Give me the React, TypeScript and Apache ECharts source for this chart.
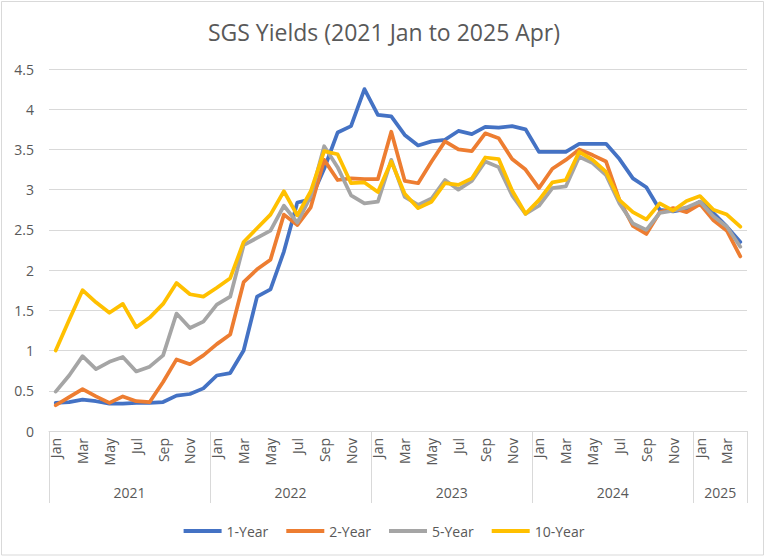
import { useEffect, useRef } from "react";
import * as echarts from "echarts";

const TITLE = "SGS Yields (2021 Jan to 2025 Apr)";
const YEARS = ["2021", "2022", "2023", "2024", "2025"];
const MONTH_NAMES = ["Jan", "Feb", "Mar", "Apr", "May", "Jun", "Jul", "Aug", "Sep", "Oct", "Nov", "Dec"];
const MONTHS_PER_YEAR = [12, 12, 12, 12, 4];
const SERIES_NAMES = ["1-Year", "2-Year", "5-Year", "10-Year"];
const SERIES_COLORS = ["#4472C4", "#ED7D31", "#A5A5A5", "#FFC000"];

const YIELD_1Y = [
  0.35, 0.36, 0.39, 0.37, 0.34, 0.34, 0.35, 0.35, 0.36, 0.44, 0.46, 0.53,
  0.69, 0.72, 1.0, 1.67, 1.76, 2.23, 2.84, 2.88, 3.26, 3.71, 3.79, 4.25,
  3.93, 3.91, 3.68, 3.55, 3.6, 3.62, 3.73, 3.69, 3.78, 3.77, 3.79, 3.75,
  3.47, 3.47, 3.47, 3.57, 3.57, 3.57, 3.38, 3.14, 3.03, 2.75, 2.73, 2.76,
  2.85, 2.71, 2.54, 2.35,
];
const YIELD_2Y = [
  0.32, 0.42, 0.52, 0.43, 0.35, 0.43, 0.37, 0.36, 0.61, 0.89, 0.83, 0.94,
  1.08, 1.2, 1.85, 2.01, 2.13, 2.69, 2.56, 2.78, 3.37, 3.12, 3.14, 3.13,
  3.13, 3.72, 3.11, 3.08, 3.35, 3.6, 3.5, 3.48, 3.7, 3.64, 3.38, 3.25,
  3.02, 3.26, 3.37, 3.5, 3.43, 3.35, 2.87, 2.55, 2.45, 2.72, 2.77, 2.72,
  2.82, 2.62, 2.49, 2.17,
];
const YIELD_5Y = [
  0.49, 0.69, 0.93, 0.77, 0.86, 0.92, 0.74, 0.8, 0.94, 1.46, 1.28, 1.36,
  1.57, 1.67, 2.31, 2.4, 2.49, 2.8, 2.59, 2.92, 3.54, 3.28, 2.93, 2.83,
  2.85, 3.37, 2.91, 2.81, 2.89, 3.12, 3.0, 3.11, 3.35, 3.28, 2.93, 2.7,
  2.8, 3.02, 3.04, 3.41, 3.33, 3.18, 2.83, 2.58, 2.5, 2.71, 2.74, 2.78,
  2.85, 2.67, 2.54, 2.29,
];
const YIELD_10Y = [
  1.0, 1.38, 1.75, 1.6, 1.47, 1.58, 1.29, 1.41, 1.58, 1.84, 1.7, 1.67,
  1.78, 1.9, 2.35, 2.52, 2.69, 2.98, 2.68, 2.98, 3.48, 3.44, 3.08, 3.09,
  2.97, 3.35, 2.95, 2.77, 2.85, 3.08, 3.06, 3.14, 3.4, 3.38, 2.99, 2.7,
  2.87, 3.09, 3.12, 3.47, 3.37, 3.22, 2.87, 2.72, 2.63, 2.83, 2.74, 2.86,
  2.92, 2.75, 2.69, 2.54,
];
const SERIES_VALUES = [YIELD_1Y, YIELD_2Y, YIELD_5Y, YIELD_10Y];

const Y_MIN = 0;
const Y_MAX = 4.5;
const Y_STEP = 0.5;

const FONT = "'Open Sans', 'Noto Sans', sans-serif";
const TEXT_COLOR = "#595959";
const GRID_COLOR = "#D9D9D9";

export default function App() {
  const ref = useRef<HTMLDivElement>(null);

  useEffect(() => {
    if (!ref.current) return;
    const chart = echarts.init(ref.current, null, { renderer: "svg" });

    // Build the two-level category structure from the named arrays
    const monthCats: string[] = [];
    const yearCats: string[] = [];
    const yearStart = new Set<number>();
    const yearLabelIdx = new Set<number>();
    YEARS.forEach((y, yi) => {
      const start = monthCats.length;
      yearStart.add(start);
      yearLabelIdx.add(start + MONTHS_PER_YEAR[yi] / 2 - 1);
      for (let m = 0; m < MONTHS_PER_YEAR[yi]; m++) {
        monthCats.push(MONTH_NAMES[m]);
        yearCats.push(y);
      }
    });

    const option: any = {
      animation: false,
      textStyle: { fontFamily: FONT },
      title: {
        text: TITLE,
        left: "center",
        top: 20,
        padding: 0,
        textStyle: { fontFamily: FONT, fontSize: 23, fontWeight: "normal", color: TEXT_COLOR },
      },
      graphic: [
        {
          type: "rect",
          shape: { x: 1.5, y: 1.5, width: 762, height: 553.5 },
          style: { fill: "none", stroke: GRID_COLOR, lineWidth: 1 },
          silent: true,
        },
      ],
      grid: { left: 49, right: 21, top: 69, bottom: 126, containLabel: false },
      legend: {
        data: SERIES_NAMES,
        left: "center",
        top: 519,
        icon: "rect",
        itemWidth: 38,
        itemHeight: 4,
        itemGap: 18,
        textStyle: { fontFamily: FONT, fontSize: 14, color: TEXT_COLOR },
      },
      xAxis: [
        {
          type: "category",
          data: monthCats,
          boundaryGap: true,
          position: "bottom",
          axisLine: { show: true, onZero: false, lineStyle: { color: GRID_COLOR, width: 1 } },
          axisTick: { show: false },
          axisLabel: {
            interval: (i: number) => i % 2 === 0,
            rotate: 90,
            margin: 7,
            fontFamily: FONT,
            fontSize: 14,
            color: TEXT_COLOR,
          },
          splitLine: { show: false },
        },
        {
          type: "category",
          data: yearCats,
          boundaryGap: true,
          position: "bottom",
          axisLine: { show: false, onZero: false },
          axisTick: {
            show: true,
            interval: (i: number) => yearStart.has(i),
            length: 72,
            lineStyle: { color: GRID_COLOR, width: 1 },
          },
          axisLabel: {
            interval: (i: number) => yearLabelIdx.has(i),
            margin: 54,
            padding: [0, 0, 0, 13.4],
            fontFamily: FONT,
            fontSize: 14,
            color: TEXT_COLOR,
          },
          splitLine: { show: false },
        },
      ],
      yAxis: {
        type: "value",
        min: Y_MIN,
        max: Y_MAX,
        interval: Y_STEP,
        axisLine: { show: false },
        axisTick: { show: false },
        axisLabel: { fontFamily: FONT, fontSize: 14, color: TEXT_COLOR, margin: 15 },
        splitLine: { lineStyle: { color: GRID_COLOR, width: 1 } },
      },
      series: SERIES_NAMES.map((name, k) => ({
        name,
        type: "line",
        xAxisIndex: 0,
        data: SERIES_VALUES[k],
        symbol: "none",
        color: SERIES_COLORS[k],
        lineStyle: { color: SERIES_COLORS[k], width: 3.75, cap: "round", join: "round" },
      })),
    };

    chart.setOption(option);
    return () => chart.dispose();
  }, []);

  return (
    <div
      ref={ref}
      style={{ position: "absolute", left: 0, top: 0, width: 768, height: 557, background: "#ffffff" }}
    />
  );
}
